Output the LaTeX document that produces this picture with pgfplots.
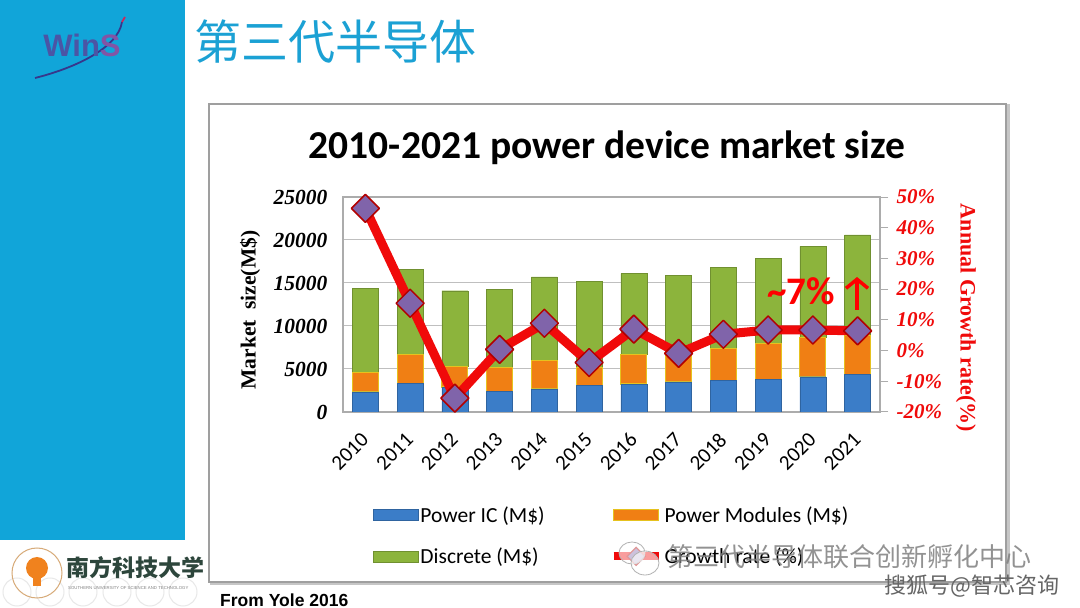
\documentclass[border=0pt]{standalone}
\usepackage{pgfplots}
\pgfplotsset{compat=1.18}
\usetikzlibrary{arrows.meta}
\usepackage{fontspec}
\setmainfont{Carlito}
\newfontfamily\tnr{Liberation Serif}
\newfontfamily\arial{Liberation Sans}
\newfontfamily\cjk{Noto Sans CJK SC}
\definecolor{side}{RGB}{17,165,217}
\definecolor{ttl}{RGB}{27,161,212}
\definecolor{pblue}{RGB}{59,125,200}
\definecolor{porange}{RGB}{240,127,20}
\definecolor{pyellow}{RGB}{230,194,30}
\definecolor{pgreen}{RGB}{140,180,60}
\definecolor{mpurple}{RGB}{128,100,170}
\definecolor{gred}{RGB}{240,10,10}
\begin{document}
\begin{tikzpicture}[x=1pt,y=1pt]
\path[use as bounding box, fill=white] (0,0) rectangle (1080,608);
% sidebar
\fill[side] (0,68) rectangle (185,608);
% WinS logo
\draw[line width=1.8pt, color={rgb,255:red,55;green,55;blue,140}] (35,530) .. controls (75,540) and (118,560) .. (122,586);
\draw[line width=1.8pt, color={rgb,255:red,205;green,40;blue,90}] (122,586) -- (125,591);
\node[anchor=center, inner sep=0pt] at (82,563) {\arial\bfseries\fontsize{31}{31}\selectfont\textcolor[RGB]{75,85,165}{Win}\textcolor[RGB]{130,85,165}{S}};
% title
\node[anchor=west, inner sep=0pt, text=ttl] at (194,566) {\cjk\fontsize{47}{47}\selectfont 第三代半导体};
% chart box
\draw[gray!45, line width=3pt] (211,24) rectangle (1008,502);
\draw[gray!75, line width=1.5pt, fill=white] (209,26) rectangle (1006,504);
\node[anchor=center, inner sep=0pt] at (607,460) {\bfseries\fontsize{39.5}{40}\selectfont 2010-2021 power device market size};
% bars axis
\begin{axis}[
  at={(343pt,196pt)}, anchor=south west,
  scale only axis, width=537pt, height=215pt,
  xmin=-0.5, xmax=11.5, ymin=0, ymax=25000,
  ybar stacked, bar width=26pt,
  axis line style={draw=gray!65, line width=1.2pt},
  ymajorgrids, grid style={draw=gray!50, line width=1pt},
  ytick={0,5000,10000,15000,20000,25000},
  scaled y ticks=false,
  /pgf/number format/assume math mode=true,
  /pgf/number format/set thousands separator={},
  yticklabel style={xshift=-12pt, font=\tnr\bfseries\itshape\fontsize{21.5}{21.5}\selectfont},
  xtick={0,1,2,3,4,5,6,7,8,9,10,11},
  xticklabels={2010,2011,2012,2013,2014,2015,2016,2017,2018,2019,2020,2021},
  xticklabel style={yshift=-22pt, xshift=2pt, rotate=45, anchor=east, font=\fontsize{21}{21}\selectfont},
  tick style={draw=none},
  ylabel={Market\ \ size(M\$)},
  ylabel style={font=\tnr\bfseries\fontsize{21.5}{21.5}\selectfont, at={(axis description cs:-0.173,0.474)}, anchor=center},
  legend columns=2,
  legend cell align=left,
  legend style={at={(axis description cs:0.05,-0.42)}, anchor=north west, draw=none, fill=none,
    font=\fontsize{21.5}{22}\selectfont, row sep=20pt,
    /tikz/every even column/.append style={column sep=63pt}},
  legend image code/.code={\draw[#1] (0pt,-5.5pt) rectangle (45pt,5.5pt);},
]
\addplot[fill=pblue, draw=pblue!80!black] coordinates {(0,2350) (1,3300) (2,2900) (3,2400) (4,2700) (5,3100) (6,3250) (7,3500) (8,3700) (9,3800) (10,4100) (11,4400)};
\addlegendentry{Power IC (M\$)}
\addplot[fill=porange, draw=pyellow, line width=1.2pt] coordinates {(0,2200) (1,3400) (2,2400) (3,2800) (4,3300) (5,2100) (6,3450) (7,3000) (8,3700) (9,4150) (10,4600) (11,4500)};
\addlegendentry{Power Modules (M\$)}
\addplot[fill=pgreen, draw=pgreen!80!black] coordinates {(0,9850) (1,9900) (2,8800) (3,9100) (4,9700) (5,10000) (6,9400) (7,9400) (8,9400) (9,9950) (10,10550) (11,11700)};
\addlegendentry{Discrete (M\$)}
\addlegendimage{legend image code/.code={
  \draw[gred, line width=8pt] (0pt,0pt) -- (45pt,0pt);
  \draw[draw=red!70!black, fill=mpurple, line width=1.2pt] (22.5pt,9pt) -- (31.5pt,0pt) -- (22.5pt,-9pt) -- (13.5pt,0pt) -- cycle;}}
\addlegendentry{Growth rate (\%)}
\end{axis}
% growth axis
\begin{axis}[
  at={(343pt,196pt)}, anchor=south west,
  scale only axis, width=537pt, height=215pt,
  xmin=-0.5, xmax=11.5, ymin=-20, ymax=50,
  axis y line*=right, axis x line=none,
  axis line style={draw=gray!65, line width=1.2pt, -},
  ytick={-20,-10,0,10,20,30,40,50},
  /pgf/number format/assume math mode=true,
  yticklabel={\pgfmathprintnumber{\tick}\%},
  yticklabel style={xshift=5pt, font=\tnr\bfseries\itshape\fontsize{21}{21}\selectfont, text=gred},
  tick align=outside, major tick length=8pt,
  ytick style={draw=gray!65, line width=1pt},
  ylabel={Annual Growth rate(\%)},
  ylabel style={font=\tnr\bfseries\fontsize{22}{22}\selectfont, text=gred, rotate=180, at={(axis description cs:1.16,0.437)}, anchor=center},
  clip=false,
]
\addplot[gred, line width=9pt, line join=round, mark=square*, mark size=9.9pt,
  mark options={rotate=45, fill=mpurple, draw=red!70!black, line width=1.5pt}]
  coordinates {(0,46.3) (1,15.4) (2,-15.5) (3,0.4) (4,8.9) (5,-3.9) (6,7.0) (7,-0.9) (8,5.3) (9,6.7) (10,6.7) (11,6.4)};
\end{axis}
% annotation
\node[anchor=west, inner sep=0pt, text=red] at (767,317) {\bfseries\fontsize{39}{39}\selectfont \textasciitilde 7\%};
\draw[red, line width=3.5pt, -{Straight Barb[length=9pt,width=22pt]}] (857,298) -- (857,331);
% bottom left logo and faint nav icons
\foreach \cx in {17,50,83,117,150,183}{\draw[gray!18, line width=1pt] (\cx,16) circle (14);}
\draw[color={rgb,255:red,215;green,170;blue,120}, line width=1pt] (37,35) circle (25);
\fill[color={rgb,255:red,240;green,130;blue,30}] (37,40) circle (11);
\fill[color={rgb,255:red,240;green,130;blue,30}] (33,22) rectangle (41,30);
\node[anchor=west, inner sep=0pt, text={rgb,255:red,45;green,70;blue,60}] at (66,40) {\cjk\bfseries\fontsize{23}{23}\selectfont 南方科技大学};
\node[anchor=west, inner sep=0pt, text=gray] at (68,20) {\arial\fontsize{4.3}{5}\selectfont SOUTHERN UNIVERSITY OF SCIENCE AND TECHNOLOGY};
\node[anchor=west, inner sep=0pt] at (220,8) {\arial\bfseries\fontsize{17.5}{18}\selectfont From Yole 2016};
% watermark
\draw[gray!60, line width=0.8pt, fill=white, fill opacity=0.6] (632,55) ellipse (13 and 11);
\draw[gray!60, line width=0.8pt, fill=white, fill opacity=0.6] (645,45) ellipse (14 and 12);
\node[anchor=west, inner sep=0pt, text=black!50, opacity=0.85] at (667,51) {\cjk\fontsize{26}{26}\selectfont 第三代半导体联合创新孵化中心};
\node[anchor=west, inner sep=0pt, text=black!60] at (884,22) {\cjk\fontsize{22}{22}\selectfont 搜狐号@智芯咨询};
\end{tikzpicture}
\end{document}
